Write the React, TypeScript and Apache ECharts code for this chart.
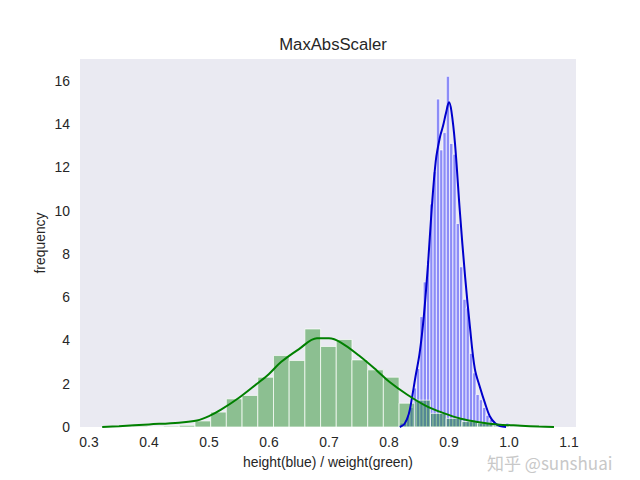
import React, { useEffect, useRef } from "react";
import * as echarts from "echarts";

const FONT = '"Liberation Sans", Arial, sans-serif';
const TEXT = "#262626";

// Histogram bin edges (x) and densities
const greenEdges = [
  0.3458, 0.3719, 0.3981, 0.4243, 0.4504, 0.4766, 0.5028, 0.5289, 0.5551, 0.5813,
  0.6075, 0.6336, 0.6598, 0.686, 0.7121, 0.7383, 0.7645, 0.7906, 0.8168, 0.843,
  0.8692, 0.8953, 0.9215, 0.9477, 0.9738, 1.0,
];
const greenDensity = [
  0.04, 0.04, 0.0, 0.04, 0.08, 0.28, 0.69, 1.3, 1.46, 2.3, 3.3, 3.07, 4.53, 3.72,
  4.04, 3.1, 2.64, 2.3, 1.1, 1.24, 0.63, 0.4, 0.25, 0.18, 0.05,
];

const blueEdges = [
  0.8185, 0.824, 0.8295, 0.835, 0.8405, 0.846, 0.8515, 0.857, 0.8625, 0.868, 0.8735,
  0.879, 0.8845, 0.89, 0.8955, 0.901, 0.9065, 0.912, 0.9175, 0.923, 0.9285, 0.934,
  0.9395, 0.945, 0.9505, 0.956, 0.9615, 0.967, 0.9725, 0.978, 0.9835, 0.989, 0.9945, 1.0,
];
const blueDensity = [
  0.18, 0.18, 0.54, 0.9, 1.8, 2.7, 5.1, 6.7, 7.7, 10.3, 11.8, 15.15, 12.8, 13.6, 16.2,
  13.1, 12.6, 9.4, 7.4, 5.9, 5.5, 3.4, 2.5, 1.5, 1.26, 0.9, 0.54, 0.36, 0.18, 0.18, 0,
  0, 0.18,
];

// KDE curves
const greenKdeX = [
  0.322, 0.35, 0.4, 0.45, 0.48, 0.5, 0.52, 0.55, 0.58, 0.6, 0.62, 0.65, 0.68, 0.7,
  0.72, 0.75, 0.78, 0.8, 0.83, 0.86, 0.89, 0.92, 0.95, 0.98, 1.02, 1.05, 1.075,
];
const greenKdeY = [
  0.0, 0.04, 0.12, 0.2, 0.3, 0.5, 0.8, 1.35, 2.0, 2.45, 3.0, 3.6, 4.1, 4.1, 3.9, 3.3,
  2.6, 2.1, 1.5, 1.0, 0.65, 0.38, 0.22, 0.12, 0.06, 0.02, 0.0,
];
const blueKdeX = [
  0.818, 0.826, 0.833, 0.838, 0.844, 0.851, 0.858, 0.865, 0.871, 0.878, 0.885, 0.89,
  0.895, 0.9, 0.904, 0.91, 0.918, 0.927, 0.935, 0.943, 0.952, 0.96, 0.968, 0.977,
  0.985, 0.995,
];
const blueKdeY = [
  0, 0.15, 0.6, 1.3, 2.3, 3.4, 5.1, 7.5, 10.0, 12.3, 13.4, 13.9, 14.5, 15.0, 14.6,
  13.1, 10.0, 6.9, 4.6, 2.7, 1.8, 1.1, 0.5, 0.17, 0.04, 0,
];

const xTickMin = 0.285;
const xTickMax = 1.1117;
const yMax = 17;

function histData(edges: number[], dens: number[]) {
  return dens.map((d, i) => [edges[i], edges[i + 1], d]);
}

function histSeries(name: string, edges: number[], dens: number[], fill: string) {
  return {
    type: "custom",
    name,
    data: histData(edges, dens),
    encode: { x: [0, 1], y: 2 },
    renderItem: (params: any, api: any) => {
      const p0 = api.coord([api.value(0), api.value(2)]);
      const p1 = api.coord([api.value(1), 0]);
      return {
        type: "rect",
        shape: { x: p0[0], y: p0[1], width: p1[0] - p0[0], height: p1[1] - p0[1] },
        style: { fill, stroke: "rgba(255,255,255,0.7)", lineWidth: 1 },
      };
    },
  };
}

function lineSeries(name: string, xs: number[], ys: number[], color: string) {
  return {
    type: "line",
    name,
    data: xs.map((x, i) => [x, ys[i]]),
    symbol: "none",
    smooth: 0.35,
    lineStyle: { color, width: 2 },
    z: 5,
  };
}

export default function App() {
  const ref = useRef<HTMLDivElement>(null);
  useEffect(() => {
    if (!ref.current) return;
    const chart = echarts.init(ref.current, null, { renderer: "svg" });
    chart.setOption({
      animation: false,
      backgroundColor: "#ffffff",
      title: {
        text: "MaxAbsScaler",
        left: 328,
        top: 31,
        textAlign: "center",
        textStyle: { fontSize: 16.7, fontWeight: "normal", color: TEXT, fontFamily: FONT },
      },
      grid: {
        left: 80,
        right: 64,
        top: 59,
        bottom: 53,
        show: true,
        backgroundColor: "#EAEAF2",
        borderWidth: 0,
      },
      xAxis: {
        type: "value",
        min: xTickMin,
        max: xTickMax,
        splitNumber: 8,
        minInterval: 0.1,
        maxInterval: 0.1,
        name: "height(blue) / weight(green)",
        nameLocation: "middle",
        nameGap: 28,
        nameMoveOverlap: false,
        nameTextStyle: { fontSize: 13.9, color: TEXT, fontFamily: FONT },
        axisLine: { show: false },
        axisTick: { show: false },
        splitLine: { show: false },
        axisLabel: {
          showMinLabel: false,
          showMaxLabel: false,
          interval: 0,
          margin: 8,
          fontSize: 13.9,
          color: TEXT,
          fontFamily: FONT,
          formatter: (v: number) => v.toFixed(1),
        },
      },
      yAxis: {
        type: "value",
        min: 0,
        max: yMax,
        interval: 2,
        name: "frequency",
        nameLocation: "middle",
        nameGap: 33,
        nameMoveOverlap: false,
        nameTextStyle: { fontSize: 13.9, color: TEXT, fontFamily: FONT },
        axisLine: { show: false },
        axisTick: { show: false },
        splitLine: { show: false },
        axisLabel: {
          showMaxLabel: false,
          margin: 10,
          fontSize: 13.9,
          color: TEXT,
          fontFamily: FONT,
        },
      },
      graphic: [
        {
          type: "text",
          x: 487,
          y: 462,
          style: {
            text: "知乎 @sunshuai",
            fontSize: 17,
            fontFamily: '"Noto Sans CJK SC", sans-serif',
            fill: "#c8c8c8",
            align: "left",
            verticalAlign: "middle",
          },
        },
      ],
      series: [
        histSeries("height", blueEdges, blueDensity, "rgba(0,0,255,0.4)"),
        lineSeries("height kde", blueKdeX, blueKdeY, "#0000cc"),
        histSeries("weight", greenEdges, greenDensity, "rgba(0,128,0,0.4)"),
        lineSeries("weight kde", greenKdeX, greenKdeY, "#008000"),
      ],
    });
    return () => chart.dispose();
  }, []);
  return (
    <div
      ref={ref}
      style={{ position: "fixed", left: 0, top: 0, width: 640, height: 480 }}
    />
  );
}
